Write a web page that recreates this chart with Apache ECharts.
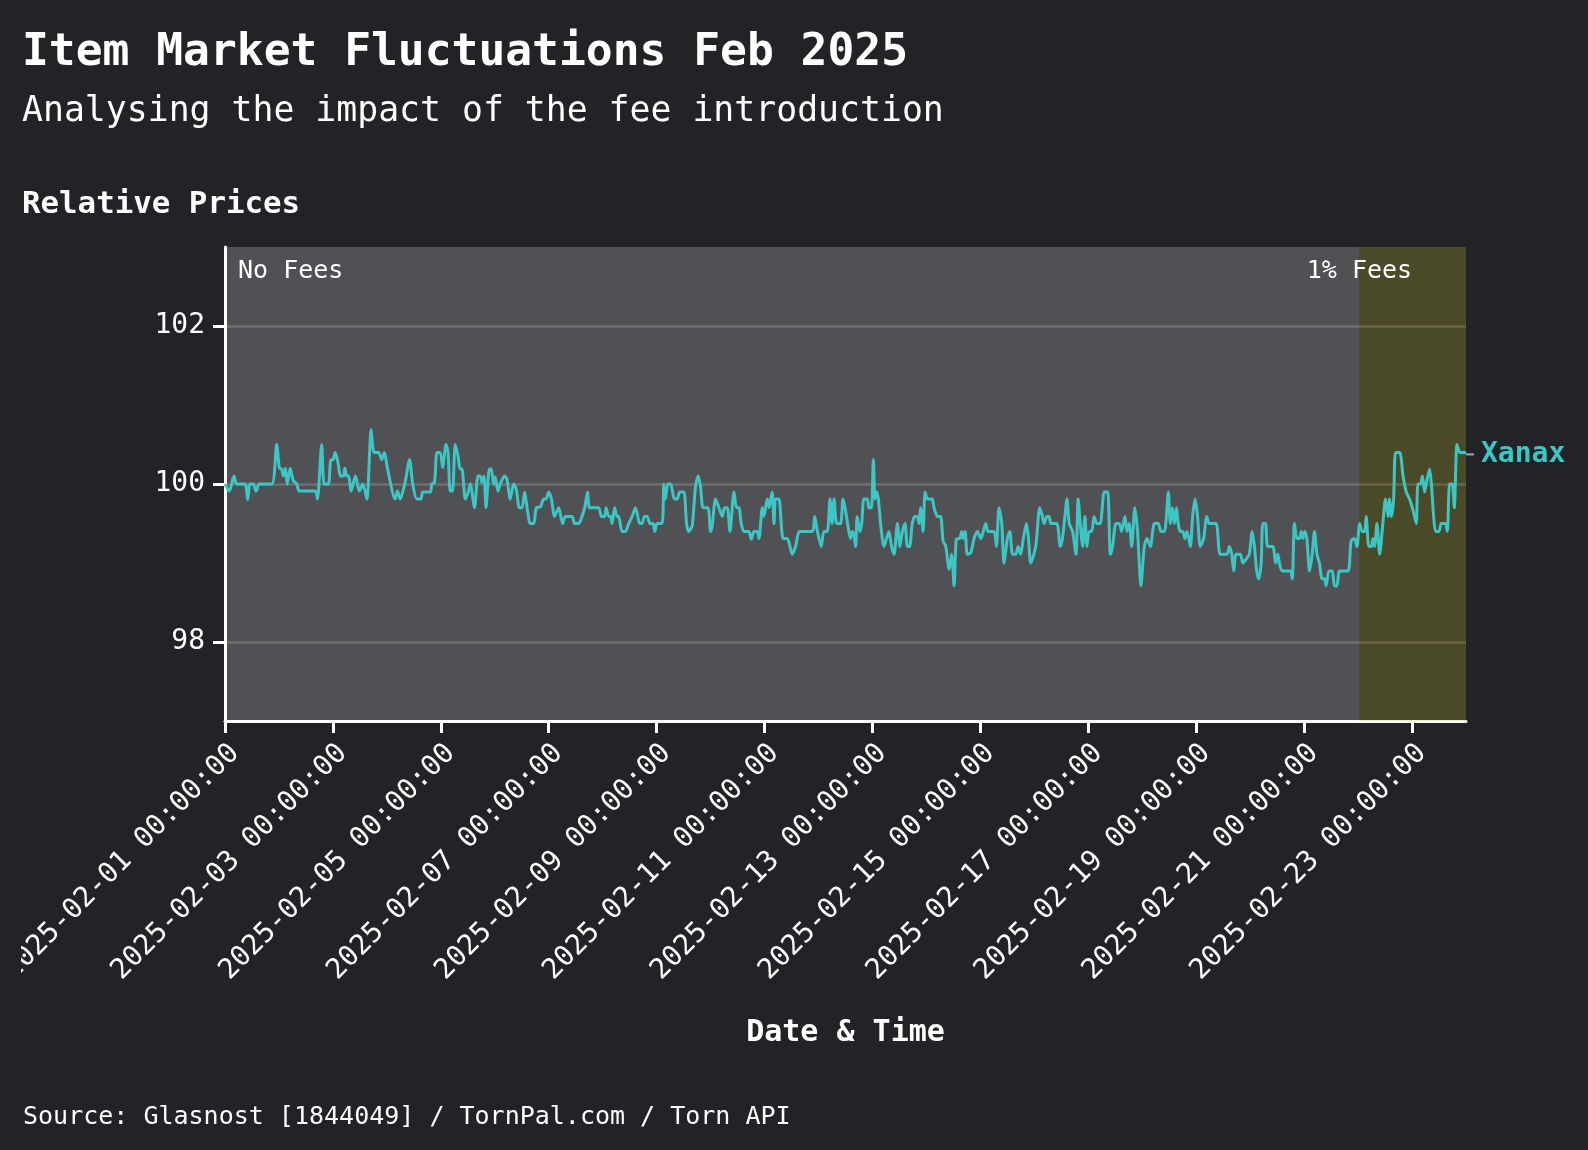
<!DOCTYPE html>
<html>
<head>
<meta charset="utf-8">
<title>Item Market Fluctuations Feb 2025</title>
<script src="https://cdn.jsdelivr.net/npm/echarts@6.0.0/dist/echarts.min.js"></script>
<style>
  html, body { margin: 0; padding: 0; background: #222327; }
  #chart { width: 1588px; height: 1150px; }
</style>
</head>
<body>
<div id="chart"></div>
<script>
// hours since 2025-02-01 00:00 and the relative Xanax price read at that time
var hours = [
  0, 1.9, 4.0, 5.2, 8.9, 10.1, 11.1, 12.6, 13.8, 15.3, 20.8, 23.0, 24.2, 25.2, 26.0, 26.9, 27.7, 29.0, 30.4, 31.9,
  33.1, 40.1, 41.1, 43.0, 44.1, 46.0, 47.0, 48.2, 49.0, 50.0, 51.5, 52.7, 53.3, 54.2, 55.0, 56.1, 58.0, 59.8, 61.3, 63.1,
  65.0, 66.3, 68.3, 69.7, 70.9, 72.3, 75.7, 76.7, 77.9, 80.1, 82.1, 83.5, 85.3, 87.1, 88.0, 91.3,
  92.0, 93.2, 94.3, 95.7, 96.8, 98.3, 99.2, 100.2, 101.2, 102.4, 103.6, 104.6, 105.4, 106.9, 108.1, 109.1, 111.0, 112.5, 113.5, 114.3,
  115.2, 116.1, 117.6, 118.4, 119.5, 120.2, 121.4, 122.4, 124.4, 125.4, 126.9, 128.4, 129.6, 130.9, 132.1, 133.3, 134.3, 135.8, 137.3, 138.5,
  140.3, 141.7, 142.8, 144.0, 145.2, 146.6, 148.4, 150.2, 151.4, 154.4, 155.5, 157.3, 158.8, 160.0, 161.3, 162.2, 166.2, 167.4, 168.9, 169.5,
  170.7, 171.6, 172.2, 173.3, 174.4, 175.1, 176.6, 178.1, 179.6, 181.1, 182.6,
  184.5, 185.5, 186.6, 187.8, 189.0, 190.4, 191.2, 192.2, 194.4, 195.2, 195.9, 197.0, 198.2, 199.9, 201.1, 202.3, 204.1, 205.3, 206.3, 207.8,
  209.3, 210.5, 211.5, 212.7, 214.8, 216.0, 216.7, 218.2, 219.7, 221.2, 222.2, 223.4, 224.6, 226.4, 227.5, 228.6, 229.6, 230.8, 233.0, 234.1,
  235.3, 236.7, 237.5, 239.0, 239.7, 241.2, 242.0, 242.7, 243.4, 244.2, 244.9, 246.4, 247.4, 248.3, 250.1, 251.3, 252.3, 253.8, 255.7, 261.2,
  262.3, 263.5, 265.2, 266.4, 267.9, 269.1, 270.0, 270.9, 272.1, 273.8,
  274.9, 275.8, 277.5, 278.3, 279.0, 279.8, 280.5, 281.2, 282.3, 283.2, 284.2, 285.7, 286.4, 287.5, 288.4, 289.1, 289.7, 290.6, 291.6, 293.1,
  294.2, 295.3, 296.5, 297.6, 299.1, 300.2, 301.3, 302.5, 303.5, 304.5, 305.7, 306.9, 308.0, 308.7, 309.4, 310.5, 311.4, 312.4, 313.4, 314.6,
  315.4, 316.9, 318.3, 319.4, 320.6, 322.1, 323.2, 324.3, 325.3, 326.8, 327.7, 328.3, 329.2, 330.2, 331.7, 333.2, 334.7, 336.2, 337.3, 338.4,
  339.4, 342.1, 343.1, 344.3, 345.5, 346.5, 348.0, 349.1, 350.3, 351.7, 352.8, 353.9, 355.1, 356.5, 357.4, 358.4, 360.6, 362.4, 363.6,
  364.4, 365.6, 366.6, 367.4, 370.0, 371.5, 372.5, 373.6, 374.5, 375.5, 377.0, 378.5, 379.5, 380.4, 381.5, 382.5, 383.4, 384.4, 385.5, 386.6,
  387.8, 389.3, 391.1, 392.6, 393.8, 394.8, 396.3, 397.8, 398.8, 400.3, 401.2, 402.2, 403.3, 404.7, 405.9, 407.4, 408.9, 410.1, 411.6, 413.4,
  415.1, 416.3, 417.8, 418.5, 419.6, 420.5, 421.4, 422.3, 423.2, 424.0, 424.9, 426.0, 427.0, 427.9, 429.4, 430.4, 431.5, 432.6, 433.8, 435.3,
  436.7, 437.8, 440.8, 442.7, 445.7, 446.7, 447.8, 448.7, 449.7, 451.6, 452.8, 454.2, 455.6,
  456.9, 457.9, 458.9, 459.8, 460.9, 461.6, 462.8, 463.8, 466.1, 467.3, 468.3, 469.0, 470.2, 473.8, 474.7, 475.7, 476.8, 477.9, 478.7, 479.4,
  480.3, 481.2, 482.4, 483.6, 484.6, 485.7, 486.8, 488.0, 489.1, 489.8, 491.0, 492.5, 493.5, 494.6, 495.8, 499.5, 500.9, 502.4, 503.5, 504.7,
  505.8, 506.9, 507.6, 508.8, 509.9, 510.6, 511.3, 512.4, 513.6, 515.0, 516.2, 517.3, 518.0, 518.9, 519.8, 520.7, 522.5, 524.0, 525.4, 526.9,
  528.1, 529.1, 529.9, 530.6, 531.7, 532.6, 533.6, 534.3, 535.8, 536.6, 537.6, 538.5, 540.0, 541.0, 542.8, 543.7, 544.7, 545.9, 546.8, 548.0,
  549.2, 550.4, 552.0
];
var prices = [
  100.0, 99.91, 100.1, 100.0, 100.0, 99.8, 100.0, 100.0, 99.91, 100.0, 100.0, 100.5, 100.2, 100.19, 100.1, 100.2, 100.0, 100.2, 100.04, 100.0,
  99.91, 99.91, 99.81, 100.5, 100.0, 100.0, 100.3, 100.31, 100.4, 100.31, 100.1, 100.1, 100.2, 100.1, 100.1, 99.91, 100.1, 99.91, 100.0, 99.81,
  100.69, 100.4, 100.4, 100.31, 100.4, 100.19, 99.81, 99.91, 99.81, 100.02, 100.31, 100.0, 99.81, 99.81, 99.9, 99.9,
  100.0, 100.02, 100.4, 100.4, 100.21, 100.5, 100.4, 99.91, 99.91, 100.5, 100.36, 100.19, 100.19, 99.81, 99.89, 100.0, 99.7, 100.1, 100.1, 100.02,
  100.1, 99.7, 100.19, 100.19, 100.0, 100.09, 99.91, 100.0, 100.1, 100.06, 99.81, 100.0, 99.93, 99.7, 99.7, 99.9, 99.71, 99.5, 99.5, 99.7,
  99.71, 99.81, 99.81, 99.9, 99.81, 99.59, 99.7, 99.5, 99.59, 99.59, 99.5, 99.5, 99.59, 99.7, 99.9, 99.7, 99.7, 99.59, 99.59, 99.7,
  99.59, 99.59, 99.5, 99.7, 99.59, 99.59, 99.4, 99.4, 99.5, 99.59, 99.7,
  99.5, 99.5, 99.59, 99.59, 99.5, 99.5, 99.4, 99.5, 99.5, 100.0, 99.81, 100.0, 100.0, 99.81, 99.81, 99.9, 99.9, 99.5, 99.4, 99.47,
  99.97, 100.1, 99.97, 99.7, 99.7, 99.4, 99.47, 99.81, 99.7, 99.59, 99.7, 99.7, 99.4, 99.9, 99.7, 99.7, 99.5, 99.4, 99.4, 99.3,
  99.4, 99.4, 99.31, 99.7, 99.59, 99.81, 99.7, 99.81, 99.9, 99.5, 99.81, 99.81, 99.5, 99.31, 99.31, 99.21, 99.11, 99.21, 99.4, 99.4,
  99.59, 99.4, 99.21, 99.4, 99.4, 99.81, 99.5, 99.81, 99.5, 99.5,
  99.81, 99.7, 99.4, 99.31, 99.4, 99.36, 99.21, 99.59, 99.4, 99.5, 99.81, 99.81, 99.7, 99.7, 100.31, 99.81, 99.9, 99.81, 99.5, 99.21,
  99.31, 99.4, 99.21, 99.11, 99.5, 99.21, 99.4, 99.5, 99.21, 99.21, 99.5, 99.59, 99.59, 99.5, 99.7, 99.4, 99.9, 99.81, 99.81, 99.81,
  99.7, 99.59, 99.59, 99.28, 99.21, 98.92, 99.11, 98.71, 99.3, 99.31, 99.4, 99.31, 99.4, 99.11, 99.13, 99.31, 99.4, 99.31, 99.4, 99.5,
  99.4, 99.4, 99.21, 99.7, 99.5, 99.0, 99.31, 99.4, 99.11, 99.11, 99.21, 99.11, 99.31, 99.5, 99.31, 99.0, 99.21, 99.7, 99.59,
  99.5, 99.59, 99.59, 99.5, 99.5, 99.21, 99.31, 99.59, 99.81, 99.5, 99.4, 99.11, 99.81, 99.5, 99.21, 99.59, 99.21, 99.4, 99.4, 99.59,
  99.5, 99.5, 99.9, 99.9, 99.11, 99.21, 99.5, 99.5, 99.4, 99.59, 99.4, 99.5, 99.21, 99.7, 99.4, 98.71, 99.21, 99.31, 99.21, 99.5,
  99.5, 99.4, 99.4, 99.5, 99.9, 99.5, 99.7, 99.5, 99.7, 99.5, 99.4, 99.4, 99.31, 99.4, 99.21, 99.59, 99.81, 99.59, 99.21, 99.31,
  99.59, 99.5, 99.5, 99.11, 99.11, 99.21, 99.11, 98.9, 99.11, 99.11, 99.0, 99.05, 99.11,
  99.4, 99.21, 98.9, 98.8, 99.0, 99.5, 99.5, 99.21, 99.21, 99.0, 99.11, 99.0, 98.9, 98.9, 98.8, 99.5, 99.31, 99.31, 99.4, 99.31,
  99.4, 99.31, 98.9, 99.11, 99.4, 99.11, 99.0, 98.8, 98.8, 98.71, 98.9, 98.9, 98.71, 98.71, 98.9, 98.9, 99.28, 99.31, 99.21, 99.5,
  99.4, 99.4, 99.59, 99.21, 99.21, 99.31, 99.21, 99.5, 99.11, 99.5, 99.81, 99.59, 99.81, 99.59, 99.81, 100.4, 100.4, 100.1, 99.9, 99.81,
  99.7, 99.59, 99.5, 100.0, 100.0, 100.1, 99.9, 100.0, 100.19, 100.0, 99.59, 99.4, 99.4, 99.5, 99.5, 99.4, 100.0, 100.0, 99.7, 100.5,
  100.4, 100.4, 100.4
];
var tickHours = [0, 48, 96, 144, 192, 240, 288, 336, 384, 432, 480, 528];
var tickLabels = [
  '2025-02-01 00:00:00', '2025-02-03 00:00:00', '2025-02-05 00:00:00', '2025-02-07 00:00:00',
  '2025-02-09 00:00:00', '2025-02-11 00:00:00', '2025-02-13 00:00:00', '2025-02-15 00:00:00',
  '2025-02-17 00:00:00', '2025-02-19 00:00:00', '2025-02-21 00:00:00', '2025-02-23 00:00:00'
];
var yTicks = [98, 100, 102];
var bandNames = ['No Fees', '1% Fees'];
var bandEdges = [0, 504.6, 552];

var mono = "'DejaVu Sans Mono', 'Liberation Mono', monospace";
var teal = '#3ec6c4';

var chart = echarts.init(document.getElementById('chart'));

var lineData = hours.map(function (h, i) { return [h, prices[i]]; });

var option = {
    backgroundColor: '#222327',
    animation: false,
    title: [
        { text: 'Item Market Fluctuations Feb 2025', left: 17, top: 26,
          textStyle: { color: '#fff', fontFamily: mono, fontWeight: 'bold', fontSize: 44.6 } },
        { text: 'Analysing the impact of the fee introduction', left: 17, top: 89,
          textStyle: { color: '#fff', fontFamily: mono, fontWeight: 'normal', fontSize: 34.8 } },
        { text: 'Relative Prices', left: 17, top: 184,
          textStyle: { color: '#fff', fontFamily: mono, fontWeight: 'bold', fontSize: 30.8 } },
        { text: 'Source: Glasnost [1844049] / TornPal.com / Torn API', left: 18, top: 1100,
          textStyle: { color: '#fff', fontFamily: mono, fontWeight: 'normal', fontSize: 25 } }
    ],
    grid: { left: 225, right: 122, top: 247, bottom: 429, containLabel: false, outerBoundsMode: 'none' },
    xAxis: {
        type: 'value',
        min: bandEdges[0],
        max: bandEdges[2],
        name: 'Date & Time',
        nameLocation: 'middle',
        nameGap: 297,
        nameTextStyle: { color: '#fff', fontFamily: mono, fontWeight: 'bold', fontSize: 30 },
        axisLine: { show: true, onZero: false, lineStyle: { color: '#fff', width: 3 } },
        axisTick: { show: true, length: 12, customValues: tickHours, lineStyle: { color: '#fff', width: 3 } },
        axisLabel: {
            customValues: tickHours,
            rotate: 45,
            margin: 18,
            verticalAlign: 'top',
            color: '#fff',
            fontFamily: mono,
            fontSize: 28,
            formatter: function (v) {
                var i = tickHours.indexOf(v);
                return i >= 0 ? tickLabels[i] : '';
            }
        },
        splitLine: { show: false }
    },
    yAxis: {
        type: 'value',
        min: 97,
        max: 103,
        axisLine: { show: true, onZero: false, lineStyle: { color: '#fff', width: 3 } },
        axisTick: { show: true, length: 12, customValues: yTicks, lineStyle: { color: '#fff', width: 3 } },
        axisLabel: { customValues: yTicks, margin: 20, color: '#fff', fontFamily: mono, fontSize: 28 },
        splitLine: { show: true, lineStyle: { color: '#4a4a4a', width: 2.5 } }
    },
    series: [
        {
            name: 'Xanax',
            type: 'line',
            data: lineData,
            showSymbol: false,
            smooth: 0.25,
            lineStyle: { color: teal, width: 3 },
            itemStyle: { color: teal },
            endLabel: {
                show: true,
                distance: 0,
                offset: [0, 2],
                formatter: '{l|}{n|Xanax}',
                rich: {
                    l: { width: 8, height: 2, backgroundColor: '#a8a8a8' },
                    n: { color: teal, fontFamily: mono, fontWeight: 'bold', fontSize: 28, padding: [0, 0, 0, 7] }
                }
            },
            markArea: {
                silent: true,
                data: [
                    [
                        { xAxis: bandEdges[0], itemStyle: { color: 'rgba(255,255,255,0.21)' },
                          label: { show: true, formatter: bandNames[0], position: [13, 12], align: 'left',
                                   color: '#fff', fontFamily: mono, fontSize: 25 } },
                        { xAxis: bandEdges[1] }
                    ],
                    [
                        { xAxis: bandEdges[1], itemStyle: { color: 'rgba(198,191,43,0.25)' },
                          label: { show: true, formatter: bandNames[1], position: [0, 12], align: 'center',
                                   color: '#fff', fontFamily: mono, fontSize: 25 } },
                        { xAxis: bandEdges[2] }
                    ]
                ]
            }
        }
    ],
    graphic: [
        { type: 'rect', left: 0, top: 735, z: 100, shape: { width: 21, height: 260 }, style: { fill: '#222327' } }
    ]
};

chart.setOption(option);
window.addEventListener('resize', function () { chart.resize(); });
</script>
</body>
</html>
